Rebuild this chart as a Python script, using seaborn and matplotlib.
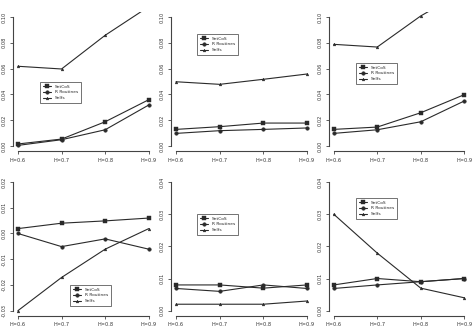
import matplotlib
matplotlib.use("Agg")
import matplotlib.pyplot as plt
import seaborn as sns
import pandas as pd

sns.set_style("white")
plt.rcParams['font.family'] = ['DejaVu Sans']

H = [0.6, 0.7, 0.8, 0.9]
xlabels = ["H=0.6", "H=0.7", "H=0.8", "H=0.9"]
series_names = ["SetCoS", "R Routines", "Selfs"]

p1_setcos = [0.0016, 0.0054, 0.0188, 0.0359]
p1_rr = [0.0005, 0.0049, 0.0126, 0.0318]
p1_selfs = [0.0618, 0.0597, 0.0858, 0.108]

p2_setcos = [0.0129, 0.0150, 0.0178, 0.0178]
p2_rr = [0.0098, 0.0119, 0.0129, 0.0140]
p2_selfs = [0.0498, 0.0478, 0.0517, 0.0558]

p3_setcos = [0.0129, 0.0147, 0.0258, 0.0398]
p3_rr = [0.0098, 0.0126, 0.0188, 0.0349]
p3_selfs = [0.0788, 0.0767, 0.1008, 0.120]

p4_setcos = [0.0019, 0.0040, 0.0049, 0.0060]
p4_rr = [0.0000, -0.0051, -0.0021, -0.0061]
p4_selfs = [-0.0300, -0.0171, -0.0061, 0.0019]

p5_setcos = [0.0080, 0.0080, 0.0070, 0.0080]
p5_rr = [0.0069, 0.0060, 0.0080, 0.0069]
p5_selfs = [0.0020, 0.0020, 0.0020, 0.0030]

p6_setcos = [0.0080, 0.0100, 0.0090, 0.0100]
p6_rr = [0.0069, 0.0080, 0.0090, 0.0100]
p6_selfs = [0.0300, 0.0179, 0.0070, 0.0040]

yt_a = [0.00, 0.02, 0.04, 0.06, 0.08, 0.10]
yt_b = [-0.03, -0.02, -0.01, 0.00, 0.01, 0.02]
yt_c = [0.00, 0.01, 0.02, 0.03, 0.04]
ytl_a = ["0.00", "0.02", "0.04", "0.06", "0.08", "0.10"]
ytl_b = ["-0.03", "-0.02", "-0.01", "0.00", "0.01", "0.02"]
ytl_c = ["0.00", "0.01", "0.02", "0.03", "0.04"]

W, Hh = 474, 329
fig = plt.figure(figsize=(W / 100, Hh / 100), dpi=100)

# panel pixel geometry: (left, right, top, bottom), legend (x, y)
panels = [
    ((12.7, 154.0, 11.8, 151.2), p1_setcos, p1_rr, p1_selfs, yt_a, ytl_a, (40, 82)),
    ((170.8, 312.2, 11.8, 151.2), p2_setcos, p2_rr, p2_selfs, yt_a, ytl_a, (197, 34)),
    ((328.5, 469.5, 11.8, 151.2), p3_setcos, p3_rr, p3_selfs, yt_a, ytl_a, (356, 63)),
    ((12.7, 154.0, 176.9, 315.8), p4_setcos, p4_rr, p4_selfs, yt_b, ytl_b, (70, 285)),
    ((170.8, 312.2, 176.9, 315.8), p5_setcos, p5_rr, p5_selfs, yt_c, ytl_c, (197, 214)),
    ((328.5, 469.5, 176.9, 315.8), p6_setcos, p6_rr, p6_selfs, yt_c, ytl_c, (356, 198)),
]

markers = ["s", "o", "^"]
msizes = [2.6, 2.6, 2.0]
lc = "#2a2a2a"

for (geom, s1, s2, s3, yt, ytl, leg) in panels:
    l, r, t, b = geom
    ax = fig.add_axes([l / W, 1 - b / Hh, (r - l) / W, (b - t) / Hh])
    ax.set_facecolor("white")
    for name, vals, mk, ms in zip(series_names, [s1, s2, s3], markers, msizes):
        df = pd.DataFrame({"H": H, "v": vals})
        sns.lineplot(data=df, x="H", y="v", ax=ax, color=lc, linewidth=0.8,
                     marker=mk, markersize=ms, markeredgewidth=0.3,
                     markeredgecolor=lc, label=name)
    ext_x = 0.04 * (H[-1] - H[0])
    ax.set_xlim(H[0] - ext_x, H[-1] + ext_x)
    ext_y = 0.04 * (yt[-1] - yt[0])
    ax.set_ylim(yt[0] - ext_y, yt[-1] + ext_y)
    ax.set_xticks(H)
    ax.set_xticklabels(xlabels, fontsize=3.6, color="#333333")
    ax.set_yticks(yt)
    ax.set_yticklabels(ytl, fontsize=3.6, color="#333333", rotation=90, va="center")
    ax.set_xlabel("")
    ax.set_ylabel("")
    for sp in ["top", "right"]:
        ax.spines[sp].set_visible(False)
    ax.spines["left"].set_bounds(yt[0], yt[-1])
    ax.spines["bottom"].set_bounds(H[0], H[-1])
    for sp in ["left", "bottom"]:
        ax.spines[sp].set_color("#444444")
        ax.spines[sp].set_linewidth(0.8)
    ax.tick_params(axis="both", direction="out", length=2.2, width=0.6,
                   color="#444444", left=True, bottom=True)
    ax.tick_params(axis="x", pad=2.6)
    ax.tick_params(axis="y", pad=2.0)
    lg = ax.legend(loc="upper left",
                   bbox_to_anchor=(leg[0] / W, 1 - leg[1] / Hh),
                   bbox_transform=fig.transFigure,
                   fontsize=3.2, frameon=True, fancybox=False,
                   handlelength=1.9, handletextpad=0.8, borderpad=0.6,
                   labelspacing=0.35, borderaxespad=0)
    lg.get_frame().set_edgecolor("#333333")
    lg.get_frame().set_linewidth(0.6)

fig.savefig("out.png", dpi=100, facecolor="white")
